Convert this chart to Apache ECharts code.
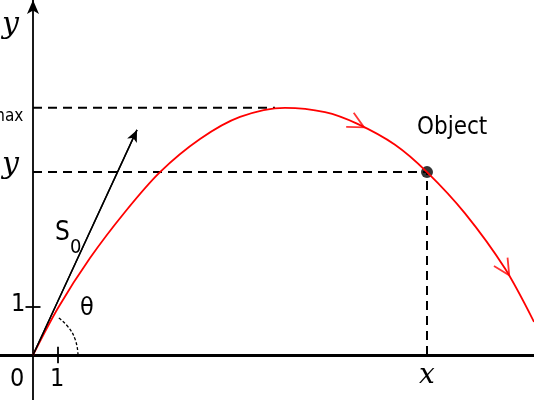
<!DOCTYPE html>
<html><head><meta charset="utf-8">
<script src="https://cdn.jsdelivr.net/npm/echarts@6/dist/echarts.min.js"></script>
<style>html,body{margin:0;padding:0;background:#fff}#c{width:534px;height:400px}</style>
</head><body><div id="c"></div>
<script>
const trajectory = [[0,0],[1,0.98],[2.28,2.02],[3.68,2.98],[5.08,3.81],[6.68,4.5],[8.28,4.96],[10.08,5.15],[11.68,5.06],[12.96,4.82],[14.48,4.38],[15.76,3.81],[17.28,2.95],[18.88,1.8],[20.04,0.69]];
const objectPt = [15.76,3.81];
const peak = [10.08,5.15];
const velocityEnd = [4.16,4.69];
const angleArc = [[1.8,0],[1.69,0.32],[1.38,0.6],[1.03,0.77]];
const flowArrows = [[12.96,4.82,-28],[18.88,1.8,-58]];
const chevron = 'path://M0,0 L10,5 L0,10';
const chart = echarts.init(document.getElementById('c'));
const dash = {color:'#000',type:[9,6],width:2};
chart.setOption({
  animation:false,
  grid:{left:0,right:0,top:0,bottom:0},
  xAxis:{type:'value',min:-1.32,max:20.04,splitLine:{show:false},axisTick:{show:false},axisLabel:{show:false},
    axisLine:{lineStyle:{color:'#000',width:3}}},
  yAxis:{type:'value',min:-0.9375,max:7.396,splitLine:{show:false},axisTick:{show:false},axisLabel:{show:false},
    axisLine:{symbol:['none','arrow'],symbolSize:[9,14],lineStyle:{color:'#000',width:1.8}}},
  series:[
    {type:'line',data:[[0,peak[1]],[peak[0]-0.4,peak[1]]],symbol:'none',lineStyle:dash,silent:true},
    {type:'line',data:[[0,objectPt[1]],objectPt],symbol:'none',lineStyle:dash},
    {type:'line',data:[[objectPt[0],0],objectPt],symbol:'none',lineStyle:dash},
    {type:'line',data:trajectory,smooth:0.3,symbol:'none',lineStyle:{color:'#f00',width:1.8}},
    {type:'line',data:angleArc,smooth:true,symbol:'none',lineStyle:{color:'#000',width:1.3,type:[3,2]}},
    {type:'line',data:[[-0.3,1],[0.3,1]],symbol:'none',lineStyle:{color:'#000',width:1.8}},
    {type:'line',data:[[1,-0.17],[1,0.17]],symbol:'none',lineStyle:{color:'#000',width:1.8}},
    {type:'line',data:[[0,0],velocityEnd],symbol:'none',showSymbol:false,lineStyle:{color:'#000',width:1.4},
      markLine:{silent:true,symbol:['none','arrow'],symbolSize:[8,12],label:{show:false},
        lineStyle:{color:'#000',width:1.4,type:'solid'},data:[[{coord:[0,0]},{coord:velocityEnd}]]}},
    {type:'scatter',data:flowArrows.map(a=>({value:[a[0],a[1]],symbolRotate:a[2]})),symbol:chevron,symbolSize:[16,16],
      itemStyle:{color:'none',borderColor:'#f00',borderWidth:1.8}},
    {type:'scatter',data:[objectPt],symbolSize:12,itemStyle:{color:'#000'}}
  ],
  graphic:[
    {type:'text',left:2,top:10,style:{text:'y',font:'italic 30px "DejaVu Serif"',fill:'#000'}},
    {type:'text',left:-10,top:108,style:{text:'max',font:'17px "DejaVu Sans Condensed"',fill:'#000'}},
    {type:'text',left:2,top:150,style:{text:'y',font:'italic 30px "DejaVu Serif"',fill:'#000'}},
    {type:'text',left:55,top:220,style:{text:'S',font:'26px "DejaVu Sans Condensed"',fill:'#000'}},
    {type:'text',left:70,top:238,style:{text:'0',font:'20px "DejaVu Sans Condensed"',fill:'#000'}},
    {type:'text',left:80,top:296,style:{text:'θ',font:'25px "DejaVu Sans Condensed"',fill:'#000'}},
    {type:'text',left:11,top:292,style:{text:'1',font:'25px "DejaVu Sans Condensed"',fill:'#000'}},
    {type:'text',left:10,top:367,style:{text:'0',font:'25px "DejaVu Sans Condensed"',fill:'#000'}},
    {type:'text',left:50,top:367,style:{text:'1',font:'25px "DejaVu Sans Condensed"',fill:'#000'}},
    {type:'text',left:419,top:362,style:{text:'x',font:'italic 28px "DejaVu Serif"',fill:'#000'}},
    {type:'text',left:417,top:116,style:{text:'Object',font:'24px "DejaVu Sans Condensed"',fill:'#000'}}
  ]
});
</script></body></html>
